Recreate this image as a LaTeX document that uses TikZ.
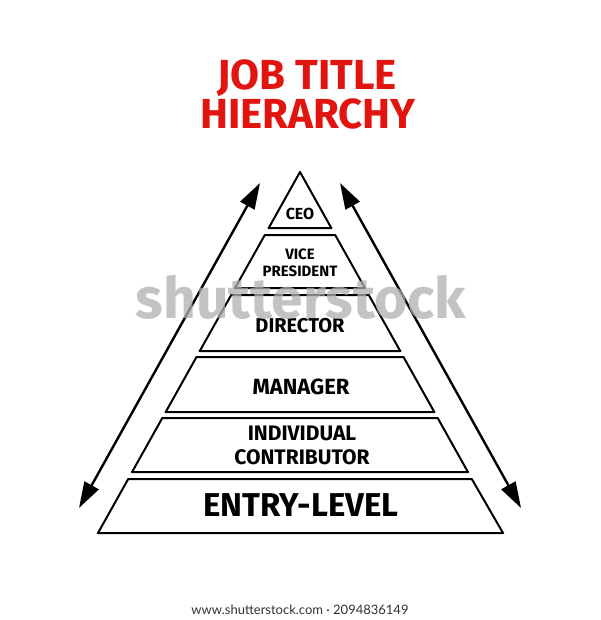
\documentclass[tikz,border=0pt]{standalone}
\usepackage{fontspec}
\setmainfont{Fira Sans}
\newfontfamily\footfont{Lato}
\usetikzlibrary{arrows.meta}
\definecolor{titlered}{RGB}{226,20,16}
\definecolor{footgray}{RGB}{51,51,51}
\definecolor{wmgray}{RGB}{175,175,175}
\tikzset{
  layerbox/.style={draw=black, line width=2pt, line join=round, fill=white},
  layerbase/.style={draw=black, line width=2.8pt, line cap=round},
  lab/.style={font=\bfseries, text=black, inner sep=0pt, align=center},
  ttl/.style={font=\bfseries\fontsize{42}{44}\selectfont, text=titlered, inner sep=0pt},
  bighead/.tip={Triangle[length=26pt,width=16pt]},
  sidearrow/.style={draw=black, line width=2.4pt, bighead-bighead},
  wm/.style={font=\fontsize{57}{57}\selectfont\bfseries, text=wmgray, opacity=0.75, inner sep=0pt},
  foot/.style={font=\footfont\fontsize{13}{13}\selectfont, text=footgray, inner sep=0pt}
}
\begin{document}
\begin{tikzpicture}[x=1pt,y=-1pt]
\useasboundingbox (0,0) rectangle (600,620);
\fill[white] (0,0) rectangle (600,620);

% title
\node[ttl] (t1) at (307,78) {JOB TITLE};
\node[ttl] (t2) at (308,114) {HIERARCHY};

% layer corners
\coordinate (apex) at (300,172);
\coordinate (l1bl) at (268.7,228); \coordinate (l1br) at (331.3,228);
\coordinate (l2tl) at (264.8,235); \coordinate (l2tr) at (335.2,235);
\coordinate (l2bl) at (235.1,288); \coordinate (l2br) at (364.9,288);
\coordinate (l3tl) at (231.2,295); \coordinate (l3tr) at (368.8,295);
\coordinate (l3bl) at (199.8,351); \coordinate (l3br) at (400.2,351);
\coordinate (l4tl) at (196.5,357); \coordinate (l4tr) at (403.5,357);
\coordinate (l4bl) at (165.7,412); \coordinate (l4br) at (434.3,412);
\coordinate (l5tl) at (162.3,418); \coordinate (l5tr) at (437.7,418);
\coordinate (l5bl) at (132.1,472); \coordinate (l5br) at (467.9,472);
\coordinate (l6tl) at (128.2,479); \coordinate (l6tr) at (471.8,479);
\coordinate (l6bl) at (98,533);    \coordinate (l6br) at (503,533);

\path[layerbox] (apex) -- (l1br) -- (l1bl) -- cycle;
\path[layerbox] (l2tl) -- (l2tr) -- (l2br) -- (l2bl) -- cycle;
\path[layerbox] (l3tl) -- (l3tr) -- (l3br) -- (l3bl) -- cycle;
\path[layerbox] (l4tl) -- (l4tr) -- (l4br) -- (l4bl) -- cycle;
\path[layerbox] (l5tl) -- (l5tr) -- (l5br) -- (l5bl) -- cycle;
\path[layerbox] (l6tl) -- (l6tr) -- (l6br) -- (l6bl) -- cycle;
\draw[layerbase] (l1bl) -- (l1br);
\draw[layerbase] (l2bl) -- (l2br);
\draw[layerbase] (l3bl) -- (l3br);
\draw[layerbase] (l4bl) -- (l4br);
\draw[layerbase] (l5bl) -- (l5br);
\draw[layerbase] (l6bl) -- (l6br);

% labels
\node[lab, font=\bfseries\fontsize{16}{16}\selectfont] (ceo) at (300,214) {CEO};
\node[lab, font=\bfseries\fontsize{15}{17}\selectfont] (vp) at (300,263) {VICE\\PRESIDENT};
\node[lab, font=\bfseries\fontsize{20}{20}\selectfont] (dir) at (300,326) {DIRECTOR};
\node[lab, font=\bfseries\fontsize{22}{22}\selectfont] (man) at (301,387) {MANAGER};
\node[lab, font=\bfseries\fontsize{21}{24}\selectfont] (ic) at (302,445) {INDIVIDUAL\\CONTRIBUTOR};
\node[lab, font=\bfseries\fontsize{33}{33}\selectfont] (entry) at (301,505) {ENTRY-LEVEL};

% side arrows
\coordinate (la1) at (79,508);  \coordinate (la2) at (260,183);
\coordinate (ra1) at (340,183); \coordinate (ra2) at (521,508);
\draw[sidearrow] (la1) -- (la2);
\draw[sidearrow] (ra1) -- (ra2);

% watermark
\node[wm] (wmark) at (301,297) {shutterstock};

% footer
\node[foot] (ftr) at (300,610) {www.shutterstock.com · 2094836149};
\end{tikzpicture}
\end{document}
